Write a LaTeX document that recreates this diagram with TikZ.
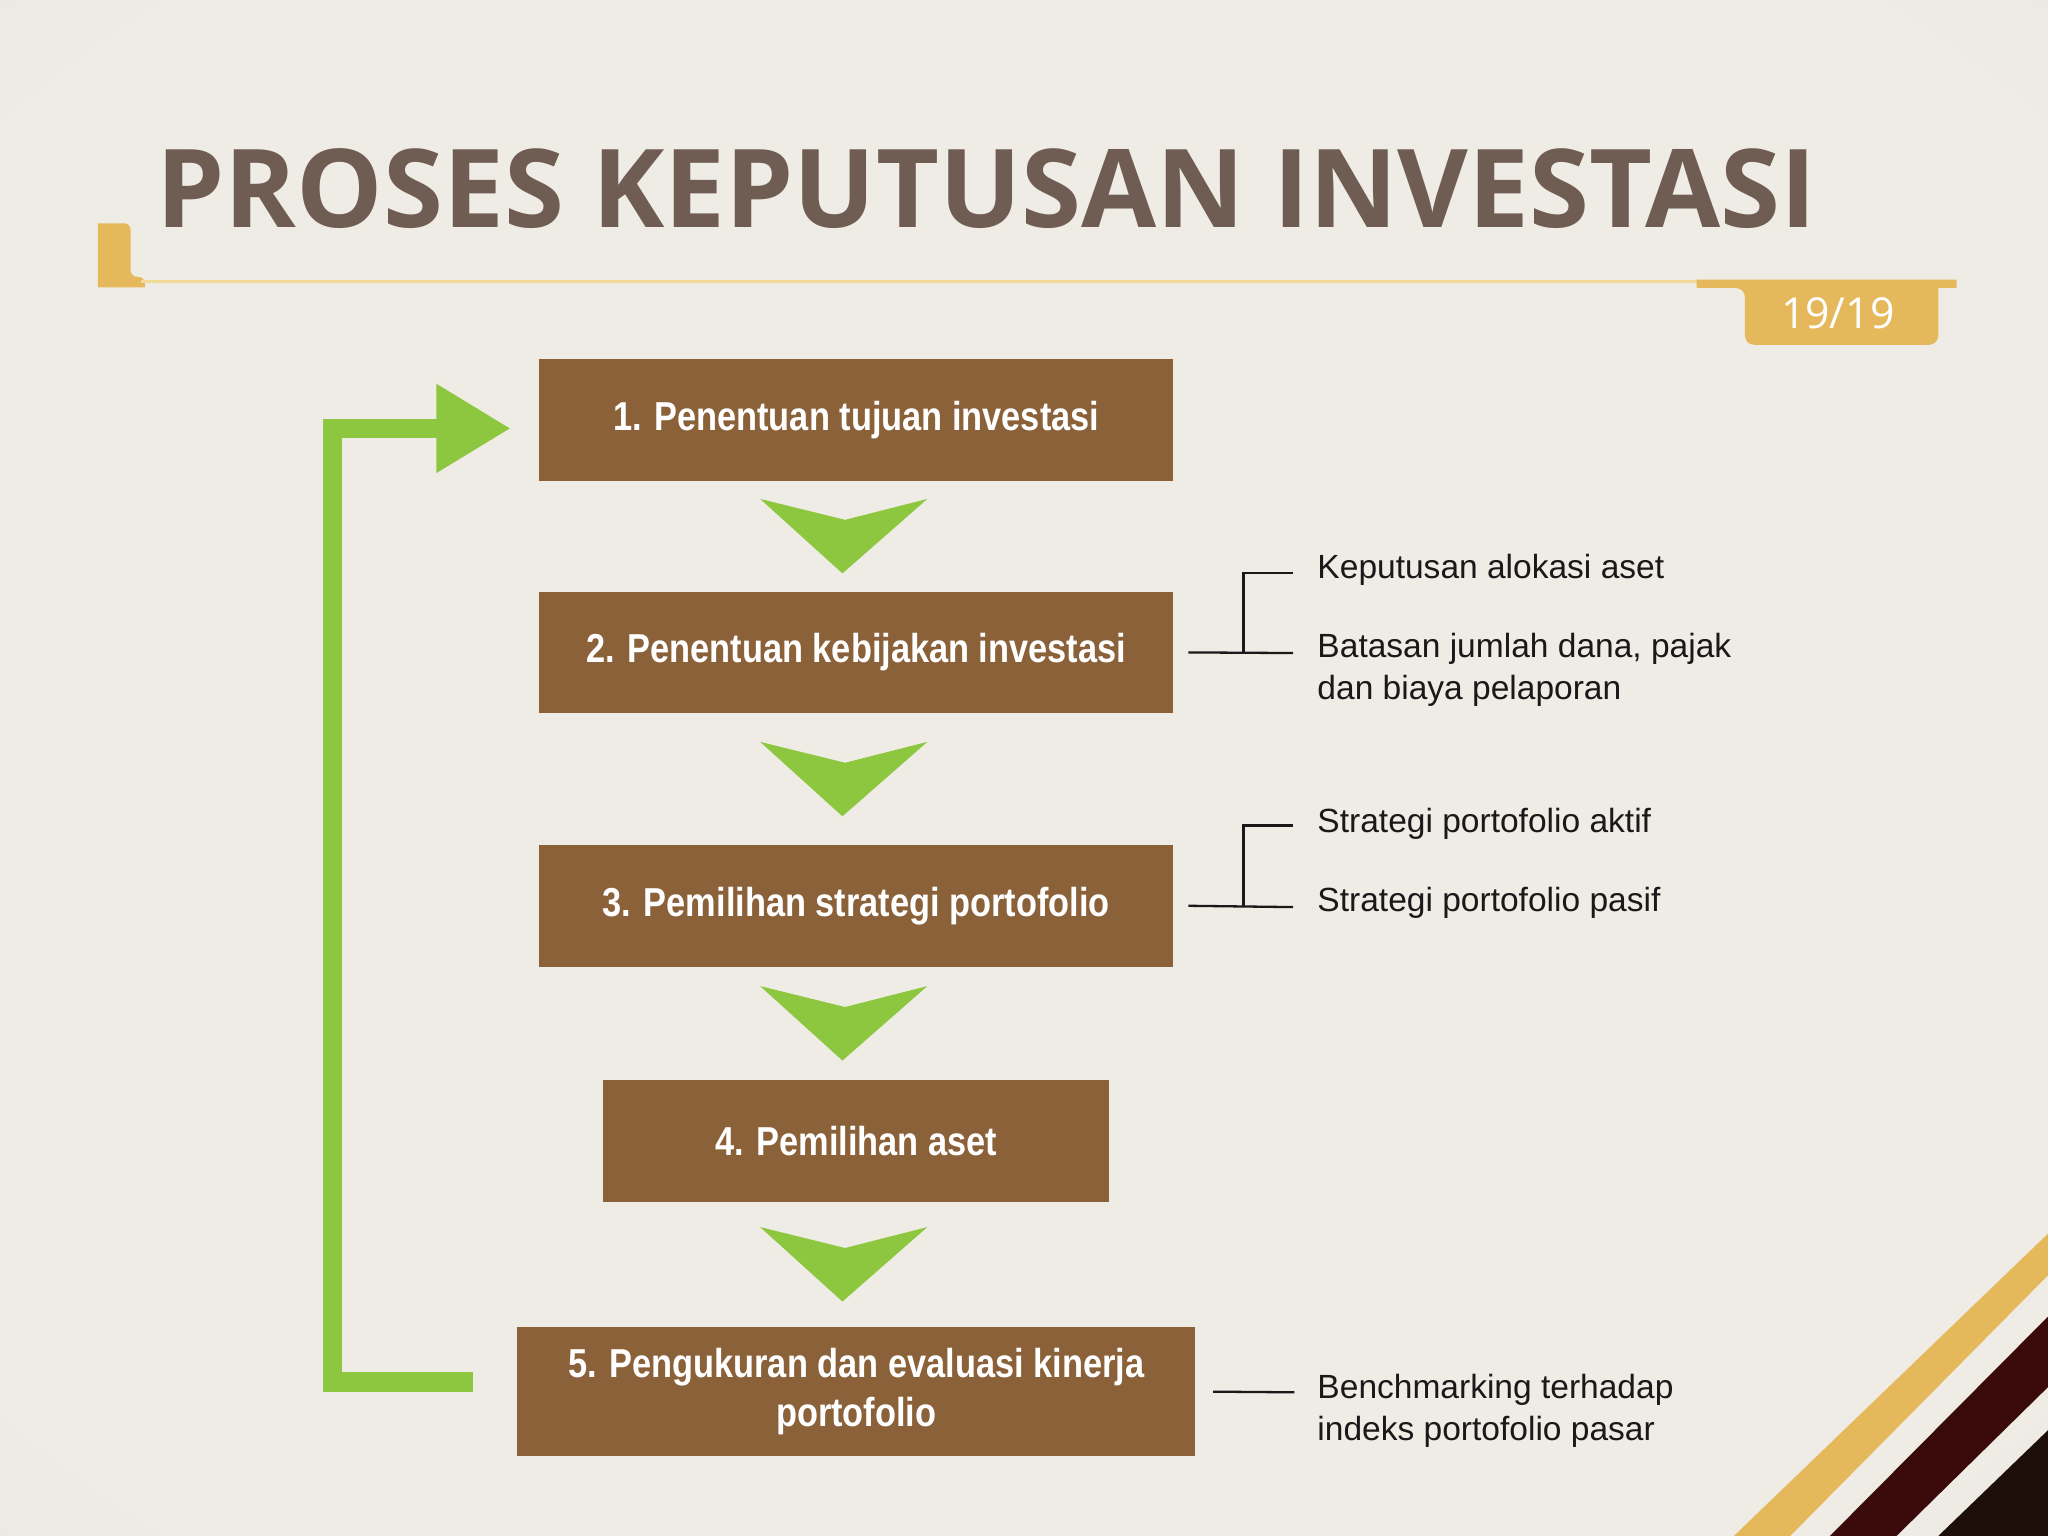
\documentclass[tikz,border=0pt]{standalone}
\usepackage{fontspec}
\setmainfont{Liberation Sans}
\newfontfamily\titlefont{Open Sans}
\newfontfamily\boxfont{Liberation Sans}[FakeStretch=0.85]
\usetikzlibrary{arrows.meta,calc}
\definecolor{paperin}{RGB}{239,236,229}
\definecolor{paperout}{RGB}{206,204,198}
\definecolor{boxbrown}{RGB}{139,97,58}
\definecolor{leafgreen}{RGB}{141,198,63}
\definecolor{tabgold}{RGB}{229,184,92}
\definecolor{rulegold}{RGB}{240,218,150}
\definecolor{titlebrown}{RGB}{111,92,83}
\definecolor{wine}{RGB}{58,10,10}
\definecolor{nearblack}{RGB}{30,14,10}
\pgfdeclareradialshading{paper}{\pgfpoint{0bp}{0bp}}{color(0bp)=(paperin); color(32bp)=(paperin); color(72bp)=(paperout)}
\tikzset{
    stage/.style={rectangle, fill=boxbrown, text=white, inner sep=0pt, align=center,
    	minimum height=0.93cm, font=\boxfont\bfseries\fontsize{8.8}{10.8}\selectfont}
}
\tikzset{
    note/.style={anchor=west, inner sep=0pt, align=left, text=black!90,
    	font=\fontsize{7.3}{9.1}\selectfont},
    tie/.style={line width=0.5pt, draw=black!90}
}
\tikzset{
	loopback/.style={draw=leafgreen, line width=0.15cm, line join=miter,
		-{Triangle[length=0.57cm,width=0.64cm]}},
	chev/.pic={\fill[leafgreen] (-73.5,-28.5) -- (-8.5,-12.5) -- (54.5,-28.5) -- (-10.5,28.5) -- cycle;}
}

\begin{document}
\begin{tikzpicture}[x=0.01cm, y=-0.01cm]
  \useasboundingbox (0,0) rectangle (1568,1176);
  \shade[shading=paper] (0,0) rectangle (1568,1176);

  \fill[tabgold] (1327.5,1176) -- (1568,944.5) -- (1568,976.4) -- (1370.6,1176) -- cycle;
  \fill[wine] (1401,1176) -- (1568,1008) -- (1568,1062) -- (1452,1176) -- cycle;
  \fill[nearblack] (1484,1176) -- (1568,1095) -- (1568,1176) -- cycle;

  \fill[tabgold] (75,220) -- (75,171) [rounded corners=0.5mm] -- (100,171) -- (100,212) -- (111,212) [sharp corners] -- (111,220) -- cycle;
  \draw[rulegold, line width=0.65pt] (108,215.5) -- (1302,215.5);
  \fill[tabgold] (1299,214) -- (1498,214) -- (1498,220.5) -- (1484,220.5) [rounded corners=0.7mm] -- (1484,264) -- (1336,264) -- (1336,220.5) [sharp corners] -- (1299,220.5) -- cycle;

  \node (title) [anchor=base west, inner sep=0pt, text=titlebrown,
    font=\titlefont\bfseries\fontsize{23.7}{28}\selectfont] at (119,174) {PROSES KEPUTUSAN INVESTASI};
  \node (page) [text=white, font=\titlefont\fontsize{9.3}{11}\selectfont] at (1407,240) {19/19};

  \node (s1) [stage, minimum width=4.85cm] at (655.5,321.5) {1. Penentuan tujuan investasi};
  \node (s2) [stage, minimum width=4.85cm] at (655.5,499.5) {2. Penentuan kebijakan investasi};
  \node (s3) [stage, minimum width=4.85cm] at (655.5,693.5) {3. Pemilihan strategi portofolio};
  \node (s4) [stage, minimum width=3.87cm] at (655.5,873.5) {4. Pemilihan aset};
  \node (s5) [stage, minimum width=5.19cm, minimum height=0.99cm] at (655.5,1065.5) {5. Pengukuran dan evaluasi kinerja\\portofolio};

  \foreach \a/\b in {s1/s2, s2/s3, s3/s4, s4/s5}
    \pic at ($(\a.south)!0.5!(\b.north)$) {chev};

  \draw[loopback] ([xshift=-3.3mm, yshift=0.75mm]s5.west) -- ++(-107.5,0) |- ([xshift=-2.1mm, yshift=-0.65mm]s1.west);

  \node (n2a) [note] at (1008,436) {Keputusan alokasi aset};
  \node (n2b) [note] at (1008,513) {Batasan jumlah dana, pajak\\dan biaya pelaporan};
  \node (n3a) [note] at (1008,631) {Strategi portofolio aktif};
  \node (n3b) [note] at (1008,691) {Strategi portofolio pasif};
  \node (n5) [note] at (1008,1080) {Benchmarking terhadap\\indeks portofolio pasar};

  \coordinate (t2a) at (990,438.5);
  \coordinate (t2b) at (990,500);
  \coordinate (t3a) at (990,632);
  \coordinate (t3b) at (990,694.5);
  \coordinate (t5) at (991,1066);

  \draw[tie] ([xshift=1.1mm]s2.east) -- (t2b);
  \draw[tie] (952,500) |- (t2a);
  \draw[tie] ([xshift=1.1mm]s3.east) -- (t3b);
  \draw[tie] (952,694.5) |- (t3a);
  \draw[tie] ([xshift=1.3mm]s5.east) -- (t5);
\end{tikzpicture}
\end{document}
